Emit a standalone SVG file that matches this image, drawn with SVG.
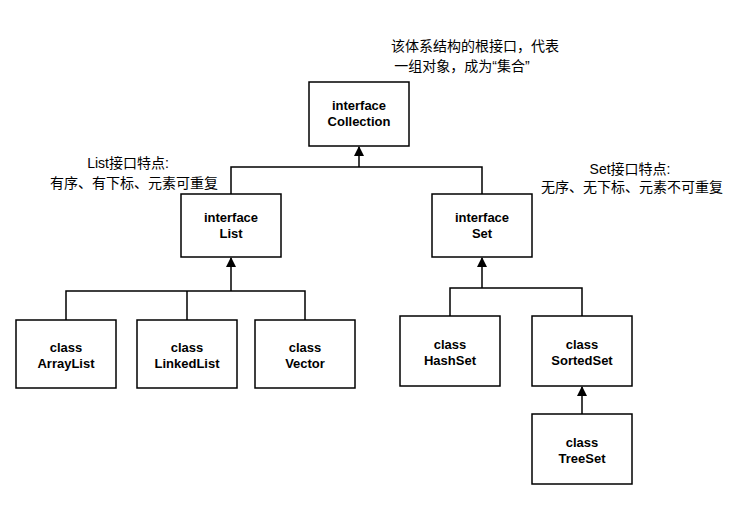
<svg xmlns="http://www.w3.org/2000/svg" width="743" height="507" viewBox="0 0 743 507">
<defs>
<style>
.n rect{fill:#fff;stroke:#000;stroke-width:1.5}
.n text{font-family:"Liberation Sans",Arial,sans-serif;font-size:13px;font-weight:bold;text-anchor:middle}
.c path{fill:none;stroke:#000;stroke-width:1.5}
.t{font-family:"Liberation Sans","Noto Sans CJK SC",sans-serif;font-size:14px;text-anchor:middle;fill:#000}
</style>
<marker id="a" markerWidth="10" markerHeight="12" refX="9" refY="5" orient="auto" markerUnits="userSpaceOnUse"><path d="M0,0 L10,5 L0,10 Z" fill="#000"/></marker>
</defs>
<rect width="743" height="507" fill="#fff"/>
<g class="c">
<path d="M231,194 V167 H482 V194"/>
<path d="M359,167 V147" marker-end="url(#a)"/>
<path d="M66,320 V291 H305 V320 M187,291 V320"/>
<path d="M231,291 V258" marker-end="url(#a)"/>
<path d="M450,316 V288 H582 V316"/>
<path d="M482,288 V258" marker-end="url(#a)"/>
<path d="M582,414 V387" marker-end="url(#a)"/>
</g>
<g id="collection" class="n"><rect x="309" y="82" width="100" height="64"/><text x="359" y="110">interface</text><text x="359" y="126">Collection</text></g>
<g id="list" class="n"><rect x="181" y="194" width="100" height="63"/><text x="231" y="222">interface</text><text x="231" y="238">List</text></g>
<g id="set" class="n"><rect x="432" y="194" width="100" height="63"/><text x="482" y="222">interface</text><text x="482" y="238">Set</text></g>
<g id="arraylist" class="n"><rect x="16" y="320" width="100" height="68"/><text x="66" y="352">class</text><text x="66" y="368">ArrayList</text></g>
<g id="linkedlist" class="n"><rect x="137" y="320" width="100" height="68"/><text x="187" y="352">class</text><text x="187" y="368">LinkedList</text></g>
<g id="vector" class="n"><rect x="255" y="320" width="100" height="68"/><text x="305" y="352">class</text><text x="305" y="368">Vector</text></g>
<g id="hashset" class="n"><rect x="400" y="316" width="100" height="70"/><text x="450" y="349">class</text><text x="450" y="365">HashSet</text></g>
<g id="sortedset" class="n"><rect x="532" y="316" width="100" height="70"/><text x="582" y="349">class</text><text x="582" y="365">SortedSet</text></g>
<g id="treeset" class="n"><rect x="532" y="414" width="100" height="70"/><text x="582" y="447">class</text><text x="582" y="463">TreeSet</text></g>
<text class="t" x="475" y="51">该体系结构的根接口，代表</text>
<text class="t" x="462" y="71">一组对象，成为“集合”</text>
<text class="t" x="128" y="168">List接口特点:</text>
<text class="t" x="134" y="188">有序、有下标、元素可重复</text>
<text class="t" x="630" y="174">Set接口特点:</text>
<text class="t" x="632" y="192">无序、无下标、元素不可重复</text>
</svg>
